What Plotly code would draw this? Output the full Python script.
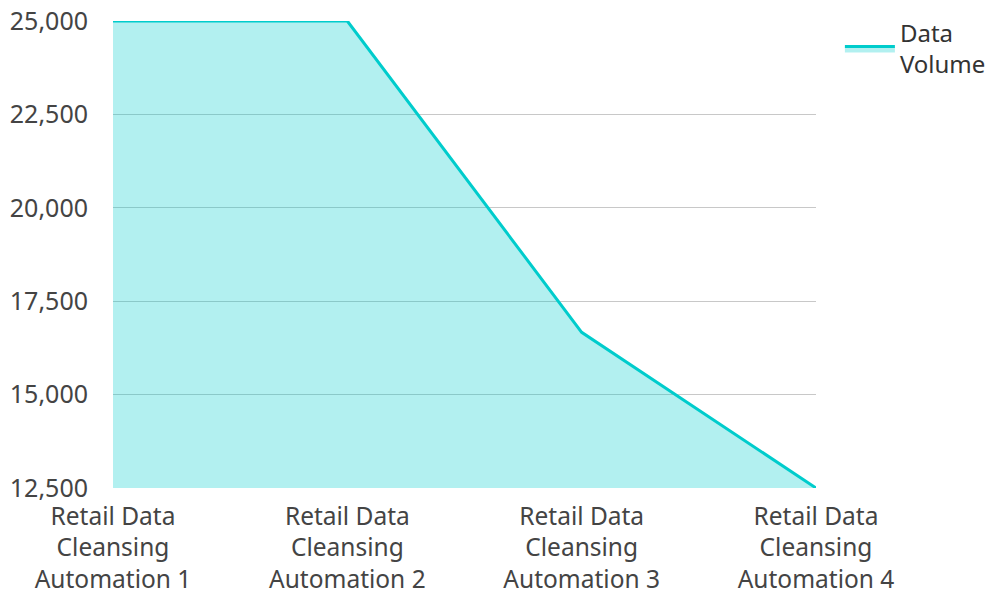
import plotly.graph_objects as go

categories = ["Retail Data<br>Cleansing<br>Automation 1", "Retail Data<br>Cleansing<br>Automation 2",
              "Retail Data<br>Cleansing<br>Automation 3", "Retail Data<br>Cleansing<br>Automation 4"]
data_volume = [25000, 25000, 16667, 12500]
y_ticks = [12500, 15000, 17500, 20000, 22500, 25000]
y_tick_labels = ["12,500", "15,000", "17,500", "20,000", "22,500", "25,000"]

fig = go.Figure()
fig.add_trace(go.Scatter(
    x=categories, y=data_volume, mode="lines", name="Data<br>Volume",
    line=dict(color="#00cccc", width=3),
    fill="tozeroy", fillcolor="rgba(0,204,204,0.3)",
))

fig.update_layout(
    width=989, height=592,
    margin=dict(l=113, r=173, t=21, b=104, autoexpand=False),
    paper_bgcolor="white", plot_bgcolor="white",
    font=dict(family="Noto Sans, Open Sans, sans-serif", size=25, color="#333333"),
    showlegend=True,
    legend=dict(x=1.034, y=1.022, xanchor="left", yanchor="top",
                font=dict(size=24, color="#333333"), itemwidth=50),
)
fig.update_xaxes(type="category", range=[0, 3], showgrid=False, showline=False,
                 zeroline=False, ticks="", ticklabelstandoff=11,
                 tickfont=dict(size=24.5, color="#444444"))
fig.update_yaxes(range=[12500, 25000], tickvals=y_ticks, ticktext=y_tick_labels,
                 showgrid=True, gridcolor="#c8c8c8", gridwidth=1, zeroline=False,
                 showline=False, ticks="", ticklabelstandoff=24,
                 tickfont=dict(size=25, color="#444444"))

fig.write_html("out.html")
